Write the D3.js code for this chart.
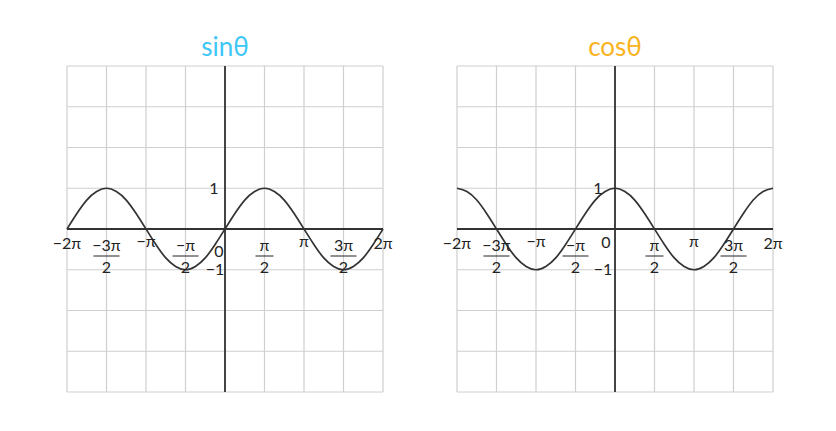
<!DOCTYPE html>
<html>
<head>
    <meta charset='utf-8'>
    <title>sin and cos</title>
    <script src='https://d3js.org/d3.v7.min.js'></script>
    <style>
        body { margin: 0; background: #fff; }
        text { font-family: Lato, 'Open Sans', sans-serif; }
    </style>
</head>
<body>
    <script>
        // angles in units of pi, sampled every pi/8
        const thetas = [-2, -1.875, -1.75, -1.625, -1.5, -1.375, -1.25, -1.125,
            -1, -0.875, -0.75, -0.625, -0.5, -0.375, -0.25, -0.125,
            0, 0.125, 0.25, 0.375, 0.5, 0.625, 0.75, 0.875,
            1, 1.125, 1.25, 1.375, 1.5, 1.625, 1.75, 1.875, 2];
        const sinValues = [0, 0.38, 0.71, 0.92, 1, 0.92, 0.71, 0.38,
            0, -0.38, -0.71, -0.92, -1, -0.92, -0.71, -0.38,
            0, 0.38, 0.71, 0.92, 1, 0.92, 0.71, 0.38,
            0, -0.38, -0.71, -0.92, -1, -0.92, -0.71, -0.38, 0];
        const cosValues = [1, 0.92, 0.71, 0.38, 0, -0.38, -0.71, -0.92,
            -1, -0.92, -0.71, -0.38, 0, 0.38, 0.71, 0.92,
            1, 0.92, 0.71, 0.38, 0, -0.38, -0.71, -0.92,
            -1, -0.92, -0.71, -0.38, 0, 0.38, 0.71, 0.92, 1];

        // tick labels along the theta axis (numerator / denominator)
        const tickValues = [-2, -1.5, -1, -0.5, 0.5, 1, 1.5, 2];
        const tickNumerators = ['−2π', '−3π', '−π', '−π', 'π', 'π', '3π', '2π'];
        const tickDenominators = ['', '2', '', '2', '2', '', '2', ''];

        const titles = ['sinθ', 'cosθ'];
        const titleColors = ['#3ec6f5', '#f9b320'];

        const svg = d3.select('body')
            .append('svg')
            .attr('width', 836)
            .attr('height', 431);

        const panels = [
            { left: 67, values: sinValues, title: titles[0], color: titleColors[0], zero: [-6, 28], one: [-11, -35], minus: [-10, 46] },
            { left: 457, values: cosValues, title: titles[1], color: titleColors[1], zero: [-9, 19], one: [-17, -35], minus: [-12, 46] }
        ];

        const plotW = 316;
        const plotTop = 66, plotBottom = 392;

        panels.forEach(function (p) {
            const x = d3.scaleLinear().domain([-2, 2]).range([p.left, p.left + plotW]);
            const y = d3.scaleLinear().domain([-4, 4]).range([plotBottom, plotTop]);
            const g = svg.append('g');
            const y0 = y(0);

            // grid
            g.selectAll('.vgrid')
                .data(d3.range(-2, 2.01, 0.5))
                .enter()
                .append('line')
                .attr('x1', d => x(d)).attr('x2', d => x(d))
                .attr('y1', plotTop).attr('y2', plotBottom)
                .attr('stroke', '#cfcfcf')
                .attr('stroke-width', 1.2);

            g.selectAll('.hgrid')
                .data(d3.range(-4, 4.01, 1))
                .enter()
                .append('line')
                .attr('x1', x(-2)).attr('x2', x(2))
                .attr('y1', d => y(d)).attr('y2', d => y(d))
                .attr('stroke', '#cfcfcf')
                .attr('stroke-width', 1.2);

            // axes
            g.append('line')
                .attr('x1', x(-2)).attr('x2', x(2))
                .attr('y1', y0).attr('y2', y0)
                .attr('stroke', '#333').attr('stroke-width', 1.8);
            g.append('line')
                .attr('x1', x(0)).attr('x2', x(0))
                .attr('y1', plotTop).attr('y2', plotBottom)
                .attr('stroke', '#333').attr('stroke-width', 1.8);

            // curve
            const line = d3.line()
                .x((d, i) => x(thetas[i]))
                .y(d => y(d))
                .curve(d3.curveNatural);
            g.append('path')
                .attr('d', line(p.values))
                .attr('fill', 'none')
                .attr('stroke', '#333')
                .attr('stroke-width', 1.7);

            // title
            g.append('text')
                .attr('x', x(0))
                .attr('y', 56)
                .attr('text-anchor', 'middle')
                .attr('font-size', '26px')
                .attr('fill', p.color)
                .text(p.title);

            // theta tick labels
            tickValues.forEach(function (v, i) {
                const cx = x(v);
                const frac = tickDenominators[i] !== '';
                const isPi = Math.abs(v) === 1;
                g.append('text')
                    .attr('x', cx)
                    .attr('y', frac ? y0 + 22 : (isPi ? y0 + 18 : y0 + 20))
                    .attr('text-anchor', 'middle')
                    .attr('font-size', '16px')
                    .attr('fill', '#222')
                    .text(tickNumerators[i]);
                if (frac) {
                    const bw = tickNumerators[i].length > 1 ? 26 : 18;
                    g.append('line')
                        .attr('x1', cx - bw / 2).attr('x2', cx + bw / 2)
                        .attr('y1', y0 + 27).attr('y2', y0 + 27)
                        .attr('stroke', '#222').attr('stroke-width', 1);
                    g.append('text')
                        .attr('x', cx)
                        .attr('y', y0 + 44)
                        .attr('text-anchor', 'middle')
                        .attr('font-size', '16px')
                        .attr('fill', '#222')
                        .text(tickDenominators[i]);
                }
            });

            // value labels 0, 1, -1
            const labels = [['0', p.zero], ['1', p.one], ['−1', p.minus]];
            labels.forEach(function (l) {
                g.append('text')
                    .attr('x', x(0) + l[1][0])
                    .attr('y', y0 + l[1][1])
                    .attr('text-anchor', 'middle')
                    .attr('font-size', '16px')
                    .attr('fill', '#222')
                    .text(l[0]);
            });
        });
    </script>
</body>
</html>
